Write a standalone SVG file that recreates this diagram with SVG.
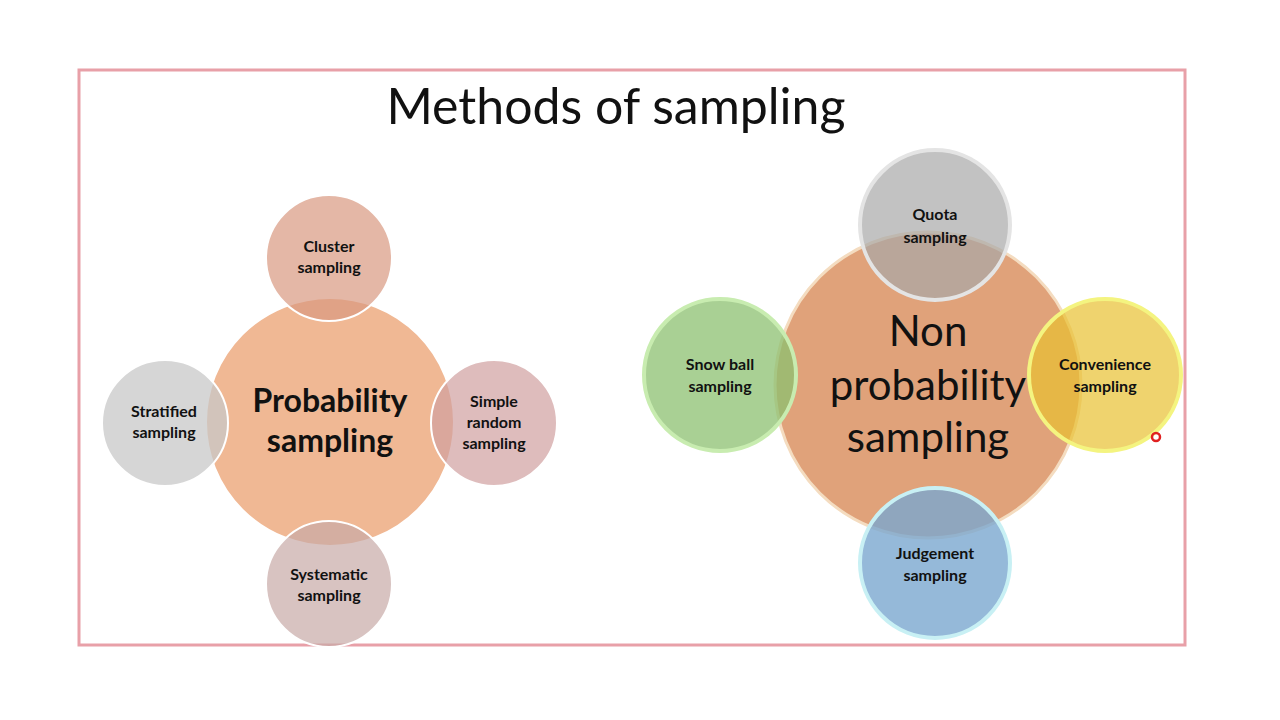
<svg xmlns="http://www.w3.org/2000/svg" width="1280" height="720" viewBox="0 0 1280 720">
<style>
text{font-family:Lato,"Open Sans","Liberation Sans",sans-serif;text-anchor:middle;fill:#111}
.s{font-size:16px;font-weight:bold}
.c{stroke:#fff;stroke-width:2}
</style>
<rect width="1280" height="720" fill="#fff"/>
<rect x="79" y="70" width="1106" height="575" fill="none" stroke="#e8a0a8" stroke-width="3"/>
<text x="616" y="124" font-size="50">Methods of sampling</text>
<g id="probability"><circle class="c" cx="330" cy="422" r="124" fill="#f0b894"/>
<text x="330" y="412" font-size="32" font-weight="bold">Probability</text><text x="330" y="452" font-size="32" font-weight="bold">sampling</text></g>
<g id="cluster"><circle class="c" cx="329" cy="258" r="63" fill="#d99880" fill-opacity="0.7"/>
<text class="s" x="329" y="252">Cluster</text><text class="s" x="329" y="273">sampling</text></g>
<g id="stratified"><circle class="c" cx="165" cy="423" r="63" fill="#c8c8c8" fill-opacity="0.75"/>
<text class="s" x="164" y="417">Stratified</text><text class="s" x="164" y="438">sampling</text></g>
<g id="simple"><circle class="c" cx="494" cy="423" r="63" fill="#d0a0a0" fill-opacity="0.7"/>
<text class="s" x="494" y="407">Simple</text><text class="s" x="494" y="428">random</text><text class="s" x="494" y="449">sampling</text></g>
<g id="systematic"><circle class="c" cx="329" cy="584" r="63" fill="#c8aaa6" fill-opacity="0.7"/>
<text class="s" x="329" y="580">Systematic</text><text class="s" x="329" y="601">sampling</text></g>
<g id="nonprob"><circle cx="928" cy="385" r="153" fill="#e0a27a" stroke="#f4dcc0" stroke-width="3"/>
<text x="928" y="346" font-size="42">Non</text><text x="928" y="400" font-size="42">probability</text><text x="928" y="452" font-size="42">sampling</text></g>
<g id="quota"><circle cx="935" cy="225" r="75" fill="#a8a8a8" fill-opacity="0.7" stroke="#e4e4e4" stroke-width="4"/>
<text class="s" x="935" y="220">Quota</text><text class="s" x="935" y="243">sampling</text></g>
<g id="snowball"><circle cx="720" cy="375" r="76" fill="#8cc070" fill-opacity="0.75" stroke="#c8ecb0" stroke-width="4"/>
<text class="s" x="720" y="370">Snow ball</text><text class="s" x="720" y="392">sampling</text></g>
<g id="convenience"><circle cx="1105" cy="375" r="76" fill="#e8c030" fill-opacity="0.7" stroke="#f4f480" stroke-width="4"/>
<text class="s" x="1105" y="370">Convenience</text><text class="s" x="1105" y="392">sampling</text></g>
<g id="judgement"><circle cx="935" cy="563" r="75" fill="#7aa8d0" fill-opacity="0.8" stroke="#c8f0f4" stroke-width="4"/>
<text class="s" x="935" y="559">Judgement</text><text class="s" x="935" y="581">sampling</text></g>
<g id="connectors"></g>
<circle cx="1156" cy="437" r="4" fill="none" stroke="#e02020" stroke-width="2.5"/>
</svg>
